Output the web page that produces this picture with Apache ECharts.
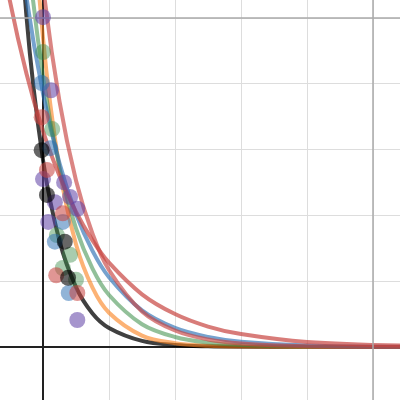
<!DOCTYPE html><html><head><meta charset="utf-8"><script src="https://cdn.jsdelivr.net/npm/echarts@6/dist/echarts.min.js"></script></head><body style="margin:0"><div id="c" style="width:400px;height:400px"></div><script>
const xs=[-0.75,-0.5,-0.25,0,0.25,0.5,0.75,1,1.5,2,2.5,3,4,5.5];
const curveBlack=[15.7,8.88,5.02,2.84,1.61,0.91,0.51,0.29,0.093,0.03,0.0095,0.003,0,0];
const curveBlue=[10.1,7.34,5.31,3.85,2.79,2.02,1.46,1.06,0.556,0.29,0.153,0.08,0.022,0.003];
const curveGreen=[14.2,9.38,6.2,4.11,2.72,1.8,1.19,0.79,0.346,0.152,0.066,0.029,0.006,0];
const curveOrange=[24.5,14.1,8.1,4.7,2.71,1.56,0.9,0.52,0.173,0.058,0.019,0.006,0.0007,0];
const curveRed1=[6.64,5.25,4.15,3.28,2.6,2.05,1.62,1.28,0.8,0.5,0.31,0.196,0.076,0.019];
const curveRed2=[17.6,11.9,8.1,5.5,3.73,2.53,1.72,1.17,0.54,0.25,0.114,0.053,0.011,0];
const ptsPurple=[[0,5.01],[0.12,3.9],[0,2.55],[0.32,2.5],[0.41,2.28],[0.18,2.2],[0.52,2.1],[0.08,1.9],[0.52,0.41]];
const ptsGreen=[[0,4.48],[0.14,3.31],[0.21,1.70],[0.41,1.4],[0.3,1.20],[0.5,1.02]];
const ptsBlue=[[-0.02,4.01],[0.11,3.02],[0.3,1.90],[0.18,1.60],[0.39,0.82]];
const ptsRed=[[-0.02,3.49],[0.06,2.69],[0.3,2.03],[0.2,1.09],[0.52,0.82]];
const ptsBlack=[[-0.02,2.99],[0.06,2.31],[0.33,1.6],[0.38,1.05]];
const C={red:'rgba(199,68,64,0.7)',blue:'rgba(45,112,179,0.65)',green:'rgba(56,140,70,0.55)',orange:'rgba(250,126,25,0.6)',black:'rgba(0,0,0,0.75)',purple:'rgba(96,66,166,0.7)',red2:'rgba(199,68,64,0.65)'};
function line(d,c,z){return {type:'line',data:xs.map((x,i)=>[x,d[i]]),smooth:0.35,showSymbol:false,lineStyle:{color:c,width:4},z:z,silent:true};}
function pts(d,c){return {type:'scatter',data:d,symbolSize:16,itemStyle:{color:c},z:5};}
const ax={min:-1,max:6,interval:1,axisLabel:{show:false},axisTick:{show:false},axisLine:{onZero:true,lineStyle:{color:'#222',width:2}},splitLine:{lineStyle:{color:'#ddd',width:1}}};
const chart=echarts.init(document.getElementById('c'));
chart.setOption({animation:false,
grid:{left:-23,right:-39,top:-48,bottom:-12.8,outerBoundsMode:'none',containLabel:false},
xAxis:Object.assign({type:'value'},ax),yAxis:Object.assign({type:'value'},ax),
series:[
{type:'line',data:[],markLine:{silent:true,symbol:'none',label:{show:false},lineStyle:{color:'#aaa',width:1.5,type:'solid'},data:[{xAxis:5},{yAxis:5}]}},
pts(ptsPurple,C.purple),pts(ptsGreen,C.green),pts(ptsBlue,C.blue),pts(ptsRed,C.red),pts(ptsBlack,C.black),
line(curveBlack,C.black,3),line(curveOrange,C.orange,3),line(curveGreen,C.green,3),line(curveBlue,C.blue,3),line(curveRed2,C.red2,3),line(curveRed1,C.red,3)
]});
</script></body></html>
